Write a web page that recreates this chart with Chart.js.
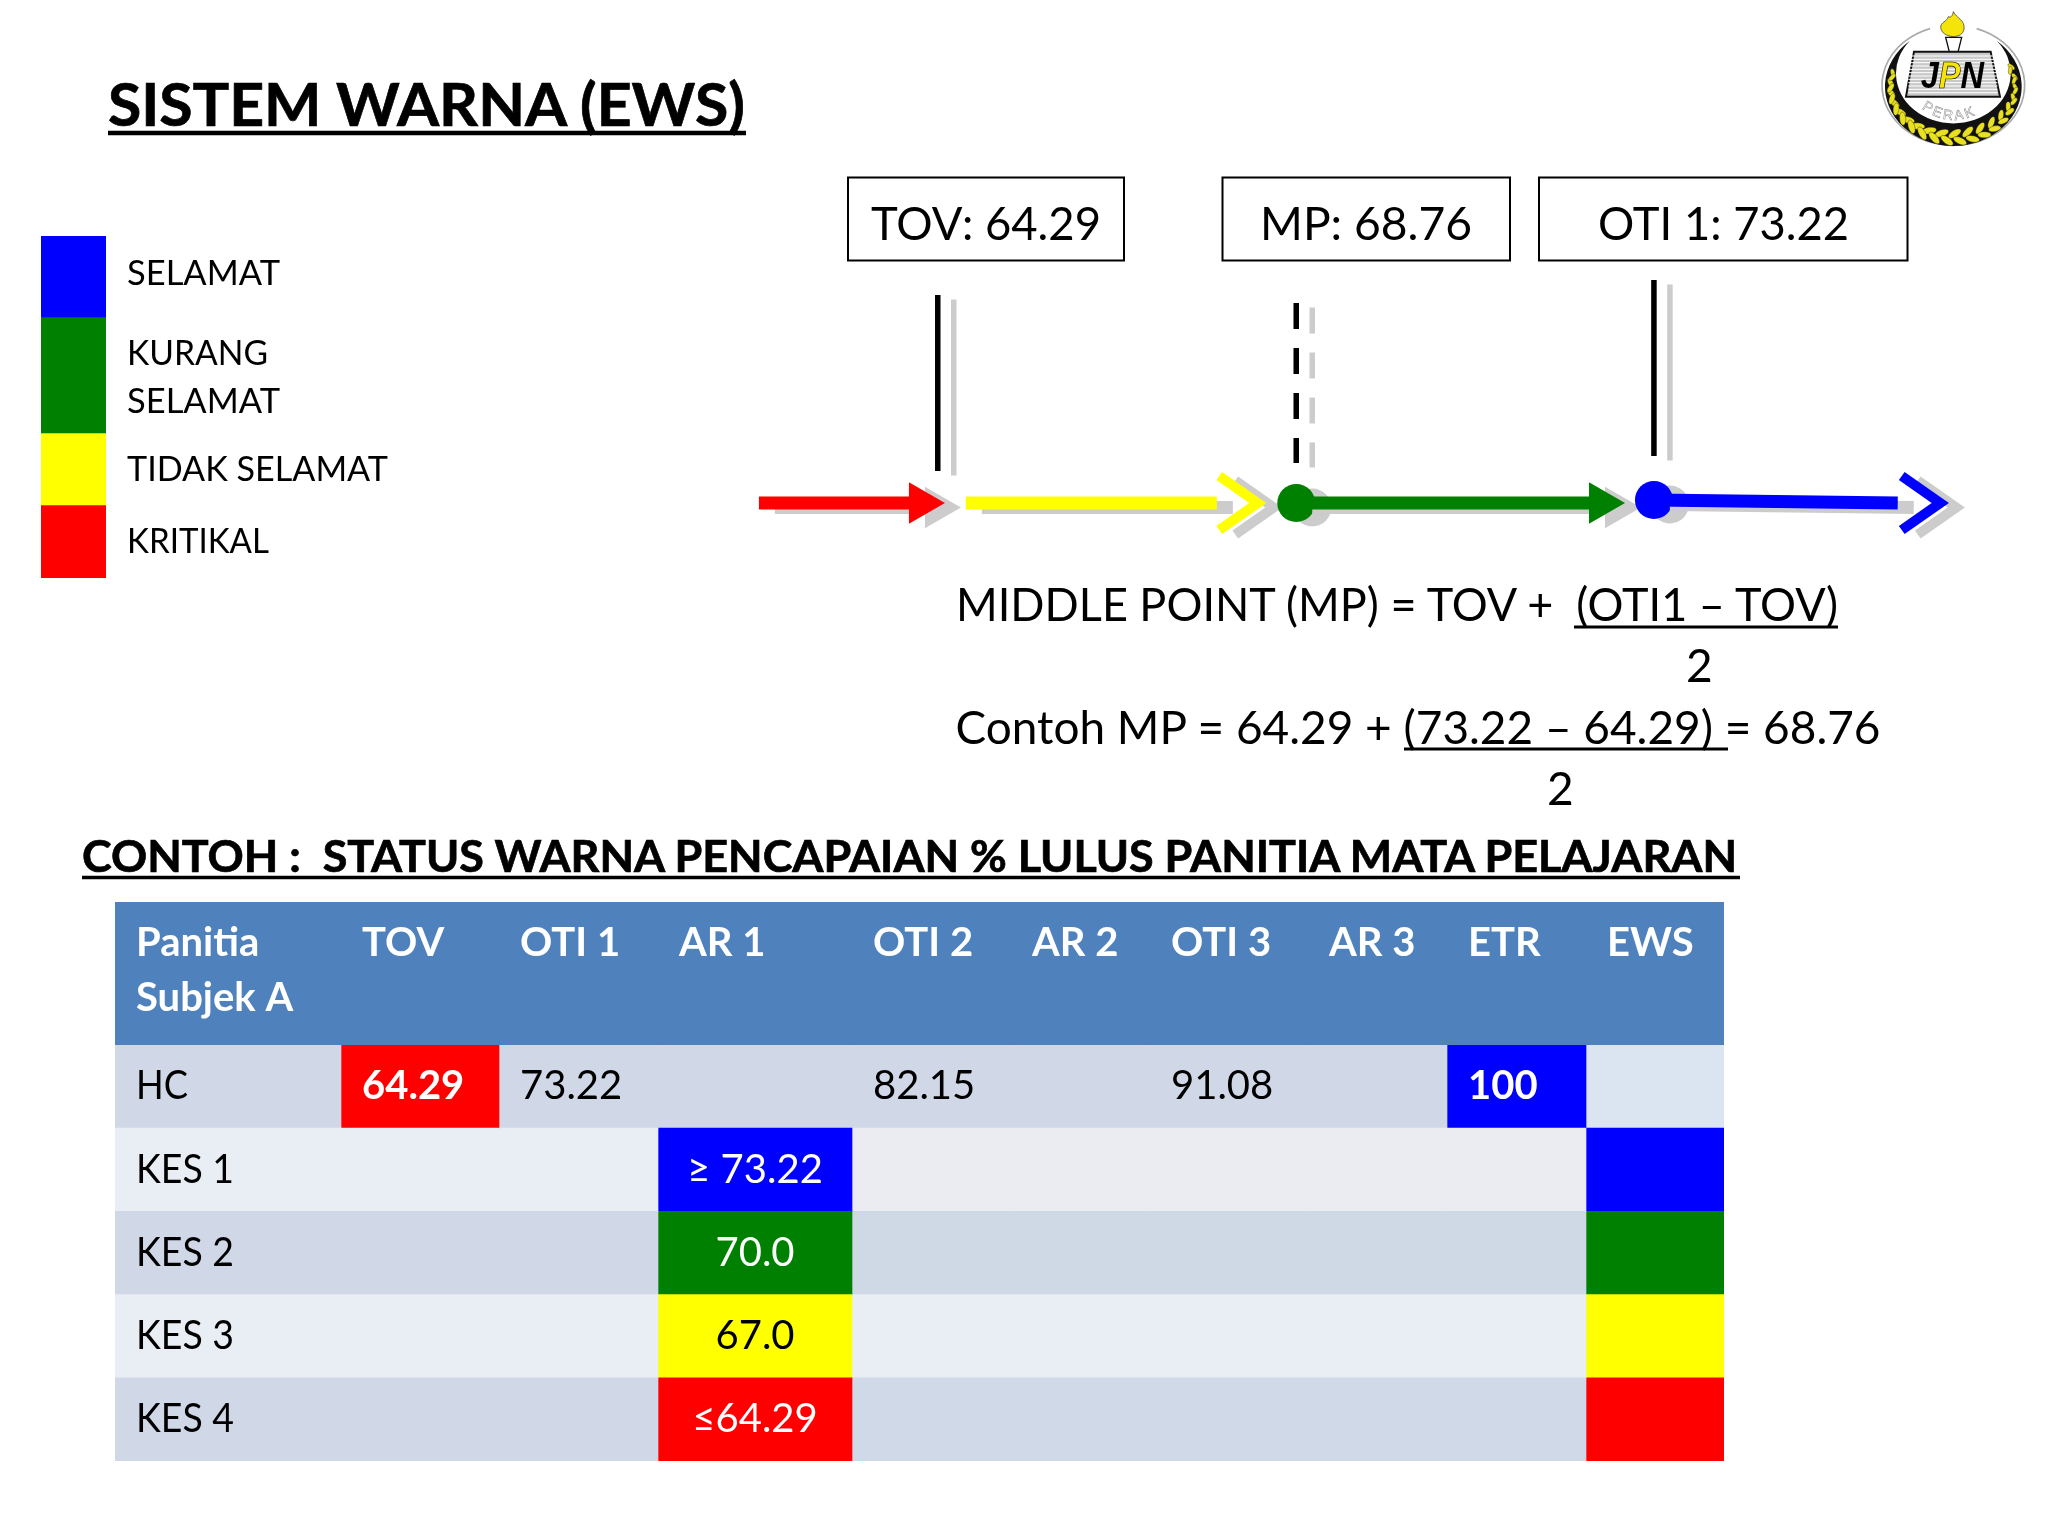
<!DOCTYPE html>
<html lang="ms">
<head>
<meta charset="UTF-8">
<title>Sistem Warna (EWS)</title>
<script src="https://cdn.jsdelivr.net/npm/chart.js"></script>
<style>
    html, body { margin: 0; background: #fff; }
    #slide { position: relative; width: 2048px; height: 1536px; overflow: hidden; }
    #slide canvas, #slide svg { position: absolute; }
    #overlay text { font-family: Lato, sans-serif; fill: #000; white-space: pre; }
</style>
</head>
<body>
<div id="slide">
    <canvas id="legendChart" width="400" height="342" style="left:41px;top:236px"></canvas>
    <canvas id="lineChart" width="1300" height="290" style="left:740px;top:270px"></canvas>
    <canvas id="headerChart" width="1609" height="143" style="left:115px;top:902px"></canvas>
    <canvas id="bodyChart" width="1609" height="416" style="left:115px;top:1045px"></canvas>
    <svg id="overlay" width="2048" height="1536" viewBox="0 0 2048 1536"></svg>
    <svg id="logo" width="268" height="170" viewBox="0 0 804 510" style="left:1780px;top:0"></svg>
</div>

<script>
// legend
const legendLabels = [['SELAMAT'], ['KURANG', 'SELAMAT'], ['TIDAK SELAMAT'], ['KRITIKAL']];
const legendColors = ['#0000ff', '#008000', '#ffff00', '#ff0000'];

// number line values
const tovValue = 64.29;
const mpValue = 68.76;
const oti1Value = 73.22;
const redArrowX = [62.06, 64.08];
const yellowArrowX = [64.64, 67.77];
const yellowChevronX = [67.80, 68.28, 67.80];
const greenArrowX = [mpValue, 72.56];
const blueArrowX = [oti1Value, 76.26];
const blueChevronX = [76.31, 76.79, 76.31];

// table
const headerRow = [['Panitia', 'Subjek A'], 'TOV', 'OTI 1', 'AR 1', 'OTI 2', 'AR 2', 'OTI 3', 'AR 3', 'ETR', 'EWS'];
const rowHC = ['HC', '64.29', '73.22', '', '82.15', '', '91.08', '', '100', ''];
const rowKes1 = ['KES 1', '', '', '≥ 73.22', '', '', '', '', '', ''];
const rowKes2 = ['KES 2', '', '', '70.0', '', '', '', '', '', ''];
const rowKes3 = ['KES 3', '', '', '67.0', '', '', '', '', '', ''];
const rowKes4 = ['KES 4', '', '', '≤64.29', '', '', '', '', '', ''];

// layout below here
const RED = '#ff0000', BLUE = '#0000ff', GREEN = '#008000', YELLOW = '#ffff00';
const columnWidths = [226, 158, 159, 194, 159, 139, 158, 139, 139, 138];
const legendBands = [81, 116, 72, 73];
const legendLabelOffsets = [[8.5], [-10, 38], [12], [11.5]];
const legendLabelWidths = [[153], [141, 153], [261], [142]];

const headFills = [Array(10).fill('#4f81bd')];
const bodyFills = [
    ['#d0d8e8', RED, '#d0d8e8', '#d0d8e8', '#d0d8e8', '#d0d8e8', '#d0d8e8', '#d0d8e8', BLUE, '#dbe5f1'],
    ['#e9edf4', '#e9edf4', '#e9edf4', BLUE, '#eaecf2', '#eaecf2', '#eaecf2', '#eaecf2', '#eaecf2', BLUE],
    ['#d0d8e8', '#d0d8e8', '#d0d8e8', GREEN, '#cfd9e5', '#cfd9e5', '#cfd9e5', '#cfd9e5', '#cfd9e5', GREEN],
    ['#e9edf4', '#e9edf4', '#e9edf4', YELLOW, '#e9edf4', '#e9edf4', '#e9edf4', '#e9edf4', '#e9edf4', YELLOW],
    ['#d0d8e8', '#d0d8e8', '#d0d8e8', RED, '#cfd9e8', '#cfd9e8', '#cfd9e8', '#cfd9e8', '#cfd9e8', RED]
];

Chart.defaults.animation = false;
Chart.defaults.plugins.legend.display = false;
Chart.defaults.plugins.tooltip.enabled = false;

// legend strip, stacked from the top
new Chart(document.getElementById('legendChart'), {
    type: 'bar',
    data: {
        labels: ['EWS'],
        datasets: legendBands.map((v, i) => ({
            data: [v],
            backgroundColor: legendColors[i],
            barPercentage: 1,
            categoryPercentage: 1
        }))
    },
    options: {
        responsive: false,
        layout: { padding: { right: 335 } },
        scales: {
            x: { display: false, stacked: true },
            y: { display: false, stacked: true, reverse: true, min: 0, max: 342 }
        }
    },
    plugins: [{
        id: 'legendText',
        afterDatasetsDraw(chart) {
            const ctx = chart.ctx;
            ctx.save();
            ctx.font = '35px Lato';
            ctx.fillStyle = '#000';
            legendLabels.forEach((lines, i) => {
                const bar = chart.getDatasetMeta(i).data[0];
                const mid = (bar.y + bar.base) / 2;
                lines.forEach((line, j) => {
                    ctx.fillText(line, bar.x + bar.width / 2 + 21, mid + legendLabelOffsets[i][j], legendLabelWidths[i][j]);
                });
            });
            ctx.restore();
        }
    }]
});

// number line
const xy = (xs, ys) => xs.map((x, i) => ({ x: x, y: ys[i] }));
const shaft = (xs, ys, color, headRadius) => ({
    data: xy(xs, ys),
    borderColor: color,
    backgroundColor: color,
    borderWidth: 13,
    borderCapStyle: 'butt',
    pointBorderWidth: 0,
    pointRadius: [0, headRadius],
    pointStyle: 'triangle',
    pointRotation: 90
});
const dot = (x, level, color) => ({
    data: [{ x: x, y: level }],
    backgroundColor: color,
    pointBorderWidth: 0,
    pointRadius: 19,
    showLine: false
});
const chevron = (xs, color) => ({
    data: xy(xs, [27, 0, -27]),
    borderColor: color,
    borderWidth: 10,
    borderCapStyle: 'butt',
    borderJoinStyle: 'miter',
    pointRadius: 0
});
const marker = (x, levels, dash) => ({
    data: xy([x, x], levels),
    borderColor: '#000',
    borderWidth: 5.5,
    borderDash: dash || [],
    borderCapStyle: 'butt',
    pointRadius: 0
});

// first dataset ends up on top
new Chart(document.getElementById('lineChart'), {
    type: 'line',
    data: {
        datasets: [
            chevron(blueChevronX, BLUE),
            shaft(blueArrowX, [3, 0], BLUE, 0),
            dot(oti1Value, 3, BLUE),
            shaft(greenArrowX, [0, 0], GREEN, 24),
            dot(mpValue, 0, GREEN),
            chevron(yellowChevronX, YELLOW),
            shaft(yellowArrowX, [0, 0], YELLOW, 0),
            shaft(redArrowX, [0, 0], RED, 24),
            marker(tovValue, [208, 32]),
            marker(mpValue, [200, 40], [26, 19]),
            marker(oti1Value, [223, 47])
        ]
    },
    options: {
        responsive: false,
        layout: { autoPadding: false },
        scales: {
            x: { type: 'linear', display: false, min: 61.824, max: 78.034 },
            y: { type: 'linear', display: false, min: -57, max: 233 }
        }
    },
    plugins: [{
        // drop shadow as on the slide
        id: 'dropShadow',
        beforeDatasetDraw(chart) {
            const ctx = chart.ctx;
            ctx.save();
            ctx.shadowColor = '#cccccc';
            ctx.shadowOffsetX = 16;
            ctx.shadowOffsetY = 4.5;
            ctx.shadowBlur = 0;
        },
        afterDatasetDraw(chart) {
            chart.ctx.restore();
        }
    }]
});

// table rows are stacked bars, one dataset per column
function tableChart(id, rows, fills, firstBaseline, labelWidth) {
    new Chart(document.getElementById(id), {
        type: 'bar',
        data: {
            labels: rows.map(r => [].concat(r[0]).join(' ')),
            datasets: columnWidths.map((w, c) => ({
                data: rows.map(() => w),
                backgroundColor: fills.map(f => f[c]),
                barPercentage: 1,
                categoryPercentage: 1
            }))
        },
        options: {
            indexAxis: 'y',
            responsive: false,
            scales: {
                x: { display: false, stacked: true, min: 0, max: 1609 },
                y: { display: false, stacked: true }
            }
        },
        plugins: [{
            id: 'cellText',
            afterDatasetsDraw(chart) {
                const ctx = chart.ctx;
                ctx.save();
                rows.forEach((row, r) => row.forEach((cell, c) => {
                    if (!cell.length) return;
                    const bar = chart.getDatasetMeta(c).data[r];
                    const fill = fills[r][c];
                    const strong = [RED, BLUE, GREEN].includes(fill);
                    const filled = strong || fill === YELLOW;
                    const inHeader = id === 'headerChart';
                    const centred = filled && c === 3;
                    ctx.font = (inHeader || (filled && !centred) ? 'bold ' : '') + '40px Lato';
                    ctx.fillStyle = (inHeader || strong) ? '#fff' : '#000';
                    ctx.textAlign = centred ? 'center' : 'left';
                    const x = centred ? (bar.base + bar.x) / 2 : bar.base + 21;
                    const top = bar.y - bar.height / 2;
                    [].concat(cell).forEach((line, j) => {
                        const w = labelWidth && c === 0 ? labelWidth(line) : undefined;
                        ctx.fillText(line, x, top + firstBaseline + j * 55.5, w);
                    });
                }));
                ctx.restore();
            }
        }]
    });
}
tableChart('headerChart', [headerRow], headFills, 53.5);
tableChart('bodyChart', [rowHC, rowKes1, rowKes2, rowKes3, rowKes4], bodyFills, 54.3, t => t === 'HC' ? 52 : 98);

// slide text, baseline positions and fitted widths
const NS = 'http://www.w3.org/2000/svg';
function add(parent, tag, attrs, content) {
    const el = document.createElementNS(NS, tag);
    Object.keys(attrs).forEach(k => el.setAttribute(k, attrs[k]));
    if (content) el.textContent = content;
    parent.appendChild(el);
    return el;
}
const overlay = document.getElementById('overlay');
function label(text, x, y, size, width, bold) {
    const attrs = { x: x, y: y, 'font-size': size, 'font-weight': bold ? 700 : 400 };
    if (width) { attrs.textLength = width; attrs.lengthAdjust = 'spacingAndGlyphs'; }
    if (bold) { attrs.stroke = '#000'; attrs['stroke-width'] = 0.7; }
    add(overlay, 'text', attrs, text);
}
function rule(x1, x2, y, w) {
    add(overlay, 'line', { x1: x1, x2: x2, y1: y, y2: y, stroke: '#000', 'stroke-width': w });
}
function box(x, y, w, h) {
    add(overlay, 'rect', { x: x, y: y, width: w, height: h, fill: '#fff', stroke: '#000', 'stroke-width': 2 });
}

label('SISTEM WARNA (EWS)', 108, 125.5, 60, 637, true);
rule(108, 746, 133, 4.5);

box(848, 177.5, 276, 83);
box(1222.5, 177.5, 287.5, 83);
box(1539, 177.5, 368.5, 83);
label('TOV: 64.29', 871, 240, 46, 230);
label('MP: 68.76', 1260, 240, 46, 212);
label('OTI 1: 73.22', 1598, 240, 46, 251);

label('MIDDLE POINT (MP) = TOV +  (OTI1 – TOV)', 956, 620.7, 46, 882);
rule(1574, 1838, 627, 3);
label('2', 1686, 681.7, 46);
label('Contoh MP = 64.29 + (73.22 – 64.29) = 68.76', 955.5, 743.5, 46, 925);
rule(1404, 1728, 749, 3);
label('2', 1547, 805, 46);

label('CONTOH :  STATUS WARNA PENCAPAIAN % LULUS PANITIA MATA PELAJARAN', 82, 871.7, 44, 1655, true);
rule(82, 1740, 877.5, 3.5);

// crest, top right
const logo = document.getElementById('logo');
add(logo, 'path', { d: 'M450 86 A214 180 0 1 0 590 86', fill: 'none', stroke: '#aaa', 'stroke-width': 5 });
add(logo, 'path', { d: 'M390 122 A205 178 0 1 0 650 122 A172 150 0 1 1 390 122 Z', fill: '#111' });
for (let t = -22; t <= 202; t += 12) {
    const a = t * Math.PI / 180;
    const k = Math.max(0.5, Math.sin((t + 40) / 288 * Math.PI));
    [-1, 1].forEach(side => {
        const cx = 519 + 187 * Math.cos(a) + side * 8 * k * Math.sin(a);
        const cy = 262 + 150 * Math.sin(a) + side * 11 * k;
        add(logo, 'ellipse', {
            cx: cx, cy: cy, rx: 19 * k + 3, ry: 8 * k + 2, fill: '#e8e020', stroke: '#111', 'stroke-width': 1,
            transform: 'rotate(' + (t + 90 + side * 28) + ' ' + cx + ' ' + cy + ')'
        });
    });
}
add(logo, 'path', { d: 'M520 35 C530 55 556 60 552 88 C548 104 538 108 520 110 C500 108 484 100 482 82 C482 66 500 66 505 50 C512 54 518 48 520 35 Z', fill: '#f4e409', stroke: '#222', 'stroke-width': 2 });
add(logo, 'path', { d: 'M497 112 L545 112 L532 164 L510 164 Z', fill: '#fff', stroke: '#111', 'stroke-width': 4 });
add(logo, 'polygon', { points: '402,155 632,155 660,290 378,290', fill: '#c8c8c8', stroke: '#111', 'stroke-width': 6 });
for (let y = 168; y < 286; y += 10) {
    add(logo, 'line', { x1: 385, x2: 652, y1: y, y2: y, stroke: '#fff', 'stroke-width': 3 });
}
const crest = add(logo, 'text', {
    x: 422, y: 264, 'font-family': 'Liberation Sans', 'font-style': 'italic', 'font-weight': 700,
    'font-size': 112, textLength: 190, lengthAdjust: 'spacingAndGlyphs', fill: '#000'
});
crest.textContent = 'J';
add(crest, 'tspan', { fill: '#f4e409', stroke: '#000', 'stroke-width': 2 }, 'P');
add(crest, 'tspan', {}, 'N');
add(logo, 'path', { id: 'perakArc', d: 'M425 325 Q520 395 620 325', fill: 'none' });
const perak = add(logo, 'text', {
    'font-family': 'Liberation Sans', 'font-size': 42, fill: '#fff', stroke: '#888', 'stroke-width': 1.5, 'letter-spacing': 7
});
add(perak, 'textPath', { href: '#perakArc' }, 'PERAK');
</script>
</body>
</html>
